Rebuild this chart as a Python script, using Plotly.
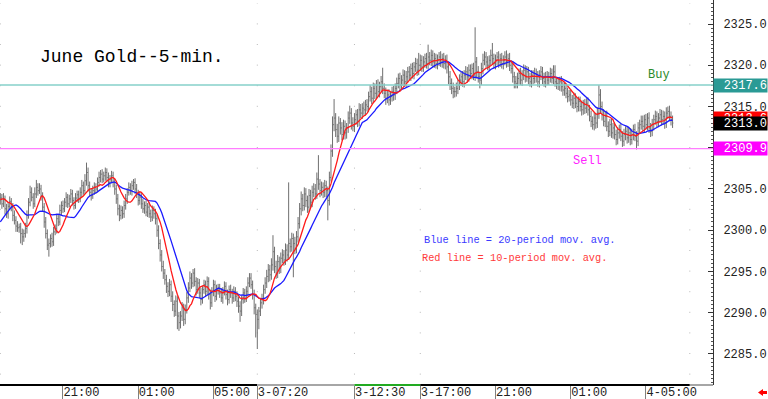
import plotly.graph_objects as go
import pandas as pd

# ---------------- data ----------------
prior_closes = [2297.0, 2297.4, 2297.6, 2298.0, 2298.2, 2298.4, 2298.6, 2299.0, 2299.3, 2299.5,
                2302.5, 2303.2, 2303.8, 2304.2, 2304.0, 2303.9, 2304.1, 2303.8, 2303.6]

closes = [
    2303.9, 2303.2, 2303.8, 2302.6, 2302.0, 2302.9, 2303.5, 2302.8, 2301.8, 2301.2,
    2300.5, 2300.3, 2300.4, 2299.6, 2299.2, 2299.6, 2300.2, 2301.8, 2303.4, 2304.6,
    2304.0, 2303.2, 2304.4, 2305.2, 2304.8, 2305.0, 2304.2, 2302.8, 2301.0, 2299.6,
    2298.2, 2298.4, 2299.0, 2298.6, 2299.8, 2300.2, 2301.4, 2301.0, 2302.4, 2303.0,
    2302.6, 2303.4, 2304.0, 2303.2, 2303.8, 2304.4, 2303.6, 2303.0, 2303.9, 2304.3,
    2303.8, 2304.6, 2305.4, 2304.8, 2306.0, 2307.0, 2305.4, 2304.6, 2304.2, 2304.8,
    2305.2, 2305.0, 2305.8, 2306.4, 2306.8, 2306.2, 2306.6, 2307.0, 2306.4, 2305.8,
    2306.2, 2306.6, 2305.8, 2305.0, 2303.8, 2302.6, 2301.8, 2302.4, 2302.0, 2303.0,
    2303.8, 2304.6, 2305.2, 2304.8, 2305.4, 2305.8, 2305.0, 2304.4, 2303.6, 2304.0,
    2303.2, 2302.6, 2303.0, 2302.2, 2302.8, 2302.0, 2301.6, 2302.4, 2302.0, 2301.4,
    2300.0, 2298.4, 2297.0, 2295.6, 2294.8, 2294.0, 2293.2, 2292.6, 2293.4, 2292.0,
    2291.0, 2290.2, 2291.4, 2289.6, 2288.8, 2289.6, 2290.6, 2289.2, 2290.4, 2291.8,
    2293.0, 2294.2, 2293.6, 2294.8, 2293.8, 2292.8, 2293.6, 2292.4, 2291.6, 2292.8,
    2293.4, 2292.6, 2293.8, 2292.2, 2291.2, 2292.6, 2293.4, 2292.0, 2292.8, 2293.0,
    2292.4, 2291.8, 2292.6, 2293.2, 2292.2, 2291.6, 2292.8, 2292.4, 2291.8, 2292.6,
    2292.0, 2291.4, 2290.8, 2290.2, 2291.6, 2292.4, 2291.8, 2292.6, 2293.6, 2294.2,
    2293.4, 2292.2, 2290.6, 2289.8, 2289.2, 2290.2, 2291.2, 2291.6, 2292.8, 2293.6,
    2294.4, 2295.2, 2294.6, 2295.8, 2297.4, 2295.6, 2294.8, 2296.2, 2295.4, 2296.6,
    2297.0, 2296.4, 2297.6, 2297.0, 2298.4, 2298.0, 2299.0, 2298.4, 2297.8, 2299.2,
    2300.8, 2302.6, 2303.8, 2303.0, 2304.4, 2303.6, 2302.8, 2304.2, 2303.4, 2304.6,
    2305.0, 2304.4, 2306.2, 2305.6, 2304.8, 2305.2, 2304.6, 2305.4, 2304.8, 2303.6,
    2306.4, 2309.6, 2312.8, 2313.6, 2312.2, 2311.4, 2313.0, 2312.4, 2311.6, 2312.6,
    2311.8, 2312.4, 2313.6, 2314.2, 2313.0, 2312.6, 2313.4, 2314.0, 2313.2, 2314.6,
    2314.2, 2314.8, 2314.6, 2315.2, 2315.0, 2316.2, 2316.8, 2316.0, 2317.2, 2316.6,
    2317.6, 2316.8, 2317.4, 2318.0, 2317.2, 2316.6, 2316.0, 2316.4, 2315.8, 2316.2,
    2316.8, 2316.4, 2317.2, 2317.8, 2318.4, 2317.6, 2318.2, 2318.8, 2318.0, 2318.6,
    2319.2, 2318.8, 2319.6, 2319.0, 2319.8, 2320.2, 2319.4, 2320.0, 2320.6, 2319.8,
    2320.4, 2320.8, 2320.2, 2321.0, 2320.6, 2321.2, 2320.4, 2320.8, 2320.2, 2320.6,
    2321.0, 2320.4, 2320.8, 2320.2, 2320.6, 2319.8, 2318.6, 2317.8, 2317.2, 2316.8,
    2316.8, 2317.2, 2317.6, 2318.2, 2318.6, 2318.0, 2318.8, 2319.2, 2318.6, 2319.4,
    2319.0, 2319.6, 2318.8, 2320.4, 2319.2, 2318.6, 2318.2, 2319.6, 2320.6, 2321.0,
    2320.4, 2320.0, 2320.6, 2321.2, 2320.8, 2320.2, 2320.6, 2321.0, 2320.4, 2320.8,
    2320.2, 2320.6, 2321.0, 2320.4, 2320.8, 2320.0, 2319.6, 2318.6, 2318.0, 2317.8,
    2318.4, 2319.0, 2318.2, 2318.8, 2319.4, 2318.6, 2319.2, 2318.4, 2318.0, 2318.8,
    2318.4, 2319.0, 2318.6, 2318.0, 2318.8, 2319.2, 2318.4, 2318.0, 2318.6, 2318.2,
    2318.6, 2319.0, 2318.4, 2319.2, 2318.0, 2317.8, 2317.6, 2318.0, 2317.4, 2317.0,
    2317.2, 2316.6, 2316.2, 2316.4, 2315.8, 2315.4, 2316.0, 2315.4, 2315.0, 2315.6,
    2315.0, 2314.6, 2315.2, 2314.8, 2315.4, 2314.6, 2313.8, 2313.2, 2312.8, 2313.6,
    2313.0, 2314.2, 2316.4, 2315.0, 2314.0, 2313.2, 2313.8, 2312.6, 2312.0, 2312.8,
    2311.8, 2312.4, 2311.6, 2311.0, 2311.8, 2312.2, 2311.4, 2310.8, 2311.6, 2312.0,
    2311.2, 2311.8, 2311.0, 2311.6, 2312.2, 2311.4, 2310.8, 2312.4, 2312.8, 2313.2,
    2312.6, 2313.4, 2312.8, 2313.6, 2312.4, 2312.0, 2312.8, 2313.4, 2313.8, 2313.2,
    2313.6, 2314.0, 2313.4, 2313.8, 2313.0, 2314.2, 2314.4, 2313.8, 2313.4, 2313.0,
]

# how far each bar's high reaches above its body
wick_up = [
    0.6, 0.5, 0.7, 0.4, 0.6, 0.5, 0.6, 0.4, 0.5, 0.6,
    0.5, 0.6, 0.4, 0.5, 0.6, 0.5, 0.7, 0.6, 0.5, 0.8,
    0.6, 0.5, 0.8, 0.9, 0.5, 0.7, 0.5, 0.4, 0.5, 0.6,
    0.5, 0.6, 0.5, 0.7, 0.6, 0.5, 0.6, 0.5, 0.7, 0.5,
    0.6, 0.5, 0.6, 0.4, 0.5, 0.6, 0.5, 0.4, 0.6, 0.5,
    0.5, 0.6, 0.7, 0.5, 0.8, 1.2, 0.6, 0.5, 0.4, 0.6,
    0.6, 0.5, 0.6, 0.7, 0.5, 0.6, 0.5, 0.6, 0.5, 0.6,
    0.5, 0.6, 0.5, 0.4, 0.5, 0.6, 0.5, 0.6, 0.5, 0.6,
    0.6, 0.5, 0.6, 0.5, 0.6, 0.4, 0.5, 0.6, 0.5, 0.6,
    0.5, 0.6, 0.5, 0.6, 0.5, 0.6, 0.5, 0.6, 0.5, 0.6,
    0.5, 0.6, 0.5, 0.6, 0.7, 0.5, 0.6, 0.5, 0.7, 0.5,
    0.6, 0.5, 0.7, 0.6, 0.5, 0.6, 0.7, 0.5, 0.6, 0.7,
    0.7, 0.8, 0.6, 0.5, 0.6, 0.5, 0.6, 0.5, 0.6, 0.5,
    0.6, 0.5, 0.6, 0.5, 0.6, 0.5, 0.6, 0.5, 0.6, 0.5,
    0.5, 0.6, 0.5, 0.6, 0.5, 0.6, 0.5, 0.6, 0.5, 0.6,
    0.5, 0.6, 0.5, 0.6, 0.5, 0.6, 0.5, 0.6, 0.7, 0.6,
    0.6, 0.5, 0.6, 0.5, 0.6, 0.5, 0.6, 0.7, 0.6, 0.7,
    0.8, 0.7, 0.6, 0.8, 2.0, 0.6, 0.7, 0.8, 0.6, 0.7,
    0.7, 0.6, 0.8, 0.7, 7.4, 0.6, 0.7, 0.6, 0.8, 0.7,
    0.8, 0.7, 0.9, 0.6, 0.8, 0.7, 0.6, 0.8, 0.7, 0.8,
    0.7, 0.6, 0.8, 2.9, 0.6, 0.7, 0.6, 0.7, 0.6, 0.5,
    0.7, 0.8, 1.0, 2.3, 0.6, 0.7, 0.8, 0.6, 0.7, 0.8,
    0.7, 0.6, 0.8, 0.9, 0.6, 0.7, 0.8, 0.6, 0.7, 0.8,
    0.7, 0.6, 0.8, 0.6, 0.7, 0.6, 0.8, 0.6, 0.7, 0.6,
    0.6, 0.7, 0.6, 0.7, 1.7, 0.6, 0.7, 0.6, 0.7, 0.6,
    0.6, 0.7, 0.6, 0.7, 0.6, 0.7, 0.6, 0.7, 0.6, 0.7,
    0.6, 0.7, 0.6, 0.7, 0.6, 0.7, 0.6, 1.5, 0.7, 0.6,
    0.7, 0.6, 0.7, 1.5, 0.6, 0.7, 0.6, 0.7, 0.6, 0.7,
    0.6, 0.7, 0.6, 0.7, 0.6, 0.7, 0.6, 0.7, 0.6, 0.7,
    0.6, 0.7, 0.6, 0.7, 0.6, 0.7, 0.6, 0.7, 0.6, 0.7,
    0.7, 0.6, 0.7, 4.2, 0.6, 0.7, 0.6, 0.7, 0.8, 0.7,
    0.6, 0.7, 0.6, 0.7, 1.5, 0.6, 0.7, 0.6, 0.7, 0.6,
    0.7, 0.6, 0.7, 0.8, 0.6, 0.7, 0.6, 0.7, 0.6, 0.7,
    0.7, 0.6, 0.7, 0.6, 0.7, 0.6, 0.7, 0.6, 0.7, 0.6,
    0.6, 0.7, 0.6, 0.7, 0.6, 0.7, 0.6, 0.7, 0.6, 0.7,
    0.6, 0.7, 0.6, 0.8, 0.8, 0.6, 0.7, 0.6, 0.7, 0.6,
    0.7, 0.6, 0.7, 0.6, 0.7, 0.6, 0.7, 0.6, 0.7, 0.6,
    0.6, 0.7, 0.6, 0.7, 0.6, 0.7, 0.6, 0.7, 0.6, 0.7,
    0.6, 0.7, 1.2, 0.7, 0.6, 0.7, 0.6, 0.7, 0.6, 0.7,
    0.7, 0.6, 0.7, 0.6, 0.7, 0.6, 0.7, 0.6, 0.7, 0.6,
    0.6, 0.7, 0.6, 0.7, 0.6, 0.7, 0.6, 0.7, 0.6, 0.7,
    0.7, 0.6, 0.7, 0.6, 0.7, 0.6, 0.7, 0.6, 0.7, 0.6,
    0.6, 0.7, 0.6, 0.7, 0.6, 0.7, 0.6, 0.7, 0.6, 0.5,
]

# how far each bar's low reaches below its body
wick_dn = [
    0.5, 0.6, 0.4, 0.7, 0.5, 0.6, 0.4, 0.5, 0.7, 0.5,
    0.7, 0.5, 0.6, 1.2, 1.0, 0.6, 0.5, 0.6, 0.4, 0.5,
    0.5, 0.6, 0.4, 0.5, 0.6, 0.4, 0.6, 0.5, 0.7, 0.6,
    0.6, 1.4, 0.5, 0.6, 0.5, 0.4, 0.6, 0.5, 0.4, 0.6,
    0.5, 0.4, 0.6, 0.5, 0.4, 0.5, 0.6, 0.5, 0.4, 0.5,
    0.5, 0.4, 0.6, 0.5, 0.4, 0.6, 0.7, 0.5, 0.6, 0.4,
    0.5, 0.6, 0.4, 0.5, 0.6, 0.5, 0.4, 0.6, 0.5, 0.6,
    0.6, 0.5, 0.6, 0.7, 0.6, 0.8, 0.7, 0.5, 0.6, 0.5,
    0.5, 0.6, 0.4, 0.5, 0.6, 0.5, 0.6, 0.5, 0.6, 0.5,
    0.6, 0.5, 0.6, 0.5, 0.6, 0.5, 0.6, 0.5, 0.6, 0.7,
    0.8, 0.7, 0.8, 0.6, 0.7, 0.6, 0.8, 0.7, 0.6, 0.7,
    0.8, 0.7, 0.6, 1.6, 1.0, 0.7, 0.6, 0.8, 0.6, 0.5,
    0.6, 0.5, 0.7, 0.5, 0.6, 0.7, 0.5, 0.6, 0.7, 0.5,
    0.5, 0.7, 0.5, 0.6, 0.8, 0.5, 0.6, 0.7, 0.5, 0.6,
    0.6, 0.5, 0.7, 0.5, 0.6, 0.7, 0.5, 0.6, 0.7, 0.5,
    0.6, 0.7, 0.8, 1.3, 0.6, 0.5, 0.6, 0.5, 0.6, 0.5,
    0.5, 0.6, 0.8, 2.8, 3.6, 1.2, 0.6, 0.7, 0.6, 0.5,
    0.6, 0.7, 0.8, 0.6, 0.7, 0.8, 0.7, 0.6, 0.7, 0.6,
    0.6, 0.7, 0.6, 0.8, 0.6, 0.7, 0.6, 4.1, 0.7, 0.6,
    0.7, 0.6, 0.8, 0.7, 0.6, 0.8, 0.7, 0.6, 0.7, 0.6,
    0.6, 0.7, 0.6, 0.7, 0.8, 0.6, 0.7, 0.6, 0.8, 2.4,
    0.6, 0.5, 0.7, 0.8, 0.9, 0.8, 0.7, 0.8, 0.7, 0.6,
    0.8, 0.7, 0.6, 0.7, 0.8, 0.6, 0.7, 0.6, 0.7, 0.6,
    0.6, 0.7, 0.6, 0.7, 0.6, 0.7, 0.6, 0.7, 0.6, 0.7,
    0.7, 0.6, 0.7, 0.6, 0.7, 0.6, 0.8, 0.6, 0.7, 0.6,
    0.6, 0.7, 0.6, 0.7, 0.6, 0.7, 0.6, 0.7, 0.6, 0.7,
    0.7, 0.6, 0.7, 0.6, 0.7, 0.6, 0.7, 0.6, 0.7, 0.6,
    0.6, 0.7, 0.6, 0.7, 0.6, 0.7, 0.6, 0.7, 0.6, 0.7,
    0.7, 0.6, 0.7, 0.6, 0.7, 0.8, 0.9, 0.8, 0.7, 0.8,
    0.7, 0.6, 0.7, 0.6, 0.7, 0.6, 0.7, 0.6, 0.7, 0.6,
    0.6, 0.7, 0.6, 0.7, 0.8, 0.7, 1.0, 0.6, 0.7, 0.6,
    0.7, 0.6, 0.7, 0.6, 0.7, 0.6, 0.7, 0.6, 0.7, 0.6,
    0.6, 0.7, 0.6, 0.7, 0.6, 0.7, 0.6, 0.7, 0.8, 0.6,
    0.6, 0.7, 0.6, 0.7, 0.6, 0.7, 0.6, 0.7, 0.6, 0.7,
    0.7, 0.6, 0.7, 0.6, 0.7, 0.6, 0.7, 0.6, 0.7, 0.6,
    0.6, 0.7, 0.6, 0.7, 0.6, 0.7, 0.6, 0.7, 0.6, 0.7,
    0.7, 0.6, 0.7, 0.6, 0.7, 0.6, 0.7, 0.6, 0.7, 0.6,
    0.6, 0.7, 0.6, 0.7, 0.6, 0.7, 0.6, 0.7, 0.6, 0.7,
    0.7, 0.6, 0.7, 0.8, 0.7, 0.6, 0.7, 0.6, 0.7, 0.6,
    0.6, 0.7, 0.6, 0.7, 0.6, 0.7, 0.6, 0.7, 0.6, 0.7,
    0.7, 0.6, 0.7, 0.6, 0.7, 0.6, 1.0, 0.6, 0.7, 0.6,
    0.6, 0.7, 0.6, 0.7, 0.6, 0.7, 0.6, 0.7, 0.6, 0.7,
    0.7, 0.6, 0.7, 0.6, 0.7, 0.6, 0.7, 0.6, 0.7, 0.6,
]

tick_bars = [40, 88, 136, 164, 226, 268, 316, 364, 412]
tick_labels = ["21:00", "01:00", "05:00", "3-07:20", "3-12:30", "3-17:00", "21:00", "01:00", "4-05:00"]
session_bounds = [-0.2, 164, 226, 268, 440, 454.8]
session_colors = ["#000000", "#a6a6a6", "#22aa22", "#000000", "#a6a6a6"]
grid_bars = [0, 164, 226, 268, 440]
buy_level = 2317.6
sell_level = 2309.9
ma10_tag = 2313.6
last_tag = 2313.0

# ---------------- derived ----------------
n = len(closes)
opens = [prior_closes[-1]] + closes[:-1]
highs = [max(o, c) + u for o, c, u in zip(opens, closes, wick_up)]
lows = [min(o, c) - d for o, c, d in zip(opens, closes, wick_dn)]
allc = pd.Series(prior_closes + closes)
ma10 = allc.rolling(10, min_periods=1).mean().tolist()[len(prior_closes):]
ma20 = allc.rolling(20, min_periods=1).mean().tolist()[len(prior_closes):]
xs = list(range(n))

MONO = "Liberation Mono, DejaVu Sans Mono, monospace"
W, H = 768, 399
PW, PH = 713, 385
def px(x):
    return x / PW
def py(y):
    return (PH - y) / PH

fig = go.Figure()
fig.add_trace(go.Ohlc(
    x=xs, open=opens, high=highs, low=lows, close=closes,
    increasing=dict(line=dict(color="#6f6f6f", width=1)),
    decreasing=dict(line=dict(color="#6f6f6f", width=1)),
    tickwidth=0.5, hoverinfo="skip", showlegend=False))
fig.add_trace(go.Scatter(x=xs, y=ma20, mode="lines",
                         line=dict(color="#1a1aff", width=1.3), hoverinfo="skip"))
fig.add_trace(go.Scatter(x=xs, y=ma10, mode="lines",
                         line=dict(color="#ff1a1a", width=1.3), hoverinfo="skip"))

shapes = []
# dotted session grid columns
for g in grid_bars:
    shapes.append(dict(type="line", xref="x", yref="y", x0=g, x1=g, y0=2282.5, y1=2327.5,
                       line=dict(color="#b8b8b8", width=1, dash="1px,19.6px"), layer="below"))
# buy / sell levels
shapes.append(dict(type="line", xref="paper", yref="y", x0=0, x1=1, y0=buy_level, y1=buy_level,
                   line=dict(color="#86d0ca", width=1.6)))
shapes.append(dict(type="line", xref="paper", yref="y", x0=0, x1=1, y0=sell_level, y1=sell_level,
                   line=dict(color="#ff7dff", width=1.2)))
# session-coloured time axis line
for a, b, col in zip(session_bounds[:-1], session_bounds[1:], session_colors):
    shapes.append(dict(type="line", xref="x", yref="paper", x0=a, x1=b, y0=0, y1=0,
                       line=dict(color=col, width=2)))
# red arrow bottom-right
ax = [px(758), px(763), px(767)]
ay = [py(392.5), py(389), py(391), py(394), py(396)]
shapes.append(dict(type="path", xref="paper", yref="paper",
                   path=f"M{ax[0]},{ay[0]} L{ax[1]},{ay[1]} L{ax[1]},{ay[2]} L{ax[2]},{ay[2]} "
                        f"L{ax[2]},{ay[3]} L{ax[1]},{ay[3]} L{ax[1]},{ay[4]} Z",
                   fillcolor="#ff0000", line=dict(width=0)))

ann = []
ann.append(dict(text="June Gold--5-min.", xref="paper", yref="paper", x=px(38), y=py(57),
                xanchor="left", yanchor="middle", showarrow=False,
                font=dict(family=MONO, size=18, color="#000000")))
ann.append(dict(text="Buy", xref="paper", yref="paper", x=px(659), y=py(75),
                xanchor="center", yanchor="middle", showarrow=False,
                font=dict(family=MONO, size=12, color="#2a8a2a")))
ann.append(dict(text="Sell", xref="paper", yref="paper", x=px(587), y=py(161),
                xanchor="center", yanchor="middle", showarrow=False,
                font=dict(family=MONO, size=12, color="#ff22ff")))
ann.append(dict(text="Blue line = 20-period mov. avg.", xref="paper", yref="paper",
                x=px(422), y=py(240), xanchor="left", yanchor="middle", showarrow=False,
                font=dict(family=MONO, size=10.3, color="#3a3aff")))
ann.append(dict(text="Red line = 10-period mov. avg.", xref="paper", yref="paper",
                x=px(420), y=py(258), xanchor="left", yanchor="middle", showarrow=False,
                font=dict(family=MONO, size=10.3, color="#ff3a3a")))
for val, bg in [(buy_level, "#2a9a95"), (sell_level, "#ff00ff"), (ma10_tag, "#ff0000"), (last_tag, "#000000")]:
    ann.append(dict(text=f"{val:.1f}", xref="paper", yref="y", x=1, y=val,
                    xanchor="left", yanchor="middle", showarrow=False,
                    width=53, height=13, align="right", bgcolor=bg, borderpad=0,
                    font=dict(family=MONO, size=12, color="#ffffff")))

fig.update_layout(
    width=W, height=H, margin=dict(l=0, r=W - PW, t=0, b=H - PH, pad=0),
    paper_bgcolor="white", plot_bgcolor="white", showlegend=False,
    shapes=shapes, annotations=ann,
    xaxis=dict(range=[-0.2, 454.8], rangeslider=dict(visible=False), showgrid=False,
               zeroline=False, showline=False, tickmode="array", tickvals=tick_bars,
               ticktext=tick_labels, ticks="outside", ticklen=14, tickcolor="#808080",
               tickwidth=1, tickangle=0, ticklabelposition="outside right",
               ticklabelstandoff=-4,
               tickfont=dict(family=MONO, size=12, color="#222222"), automargin=False),
    yaxis=dict(range=[2281.24, 2327.91], side="right", showgrid=False, zeroline=False,
               showline=True, linecolor="#333333", linewidth=1, mirror=False,
               tickmode="array", tickvals=[2285, 2290, 2295, 2300, 2305, 2310, 2315, 2320, 2325],
               tickformat=".1f", ticks="inside", ticklen=5, tickcolor="#333333",
               minor=dict(dtick=0.5, tick0=2285, ticks="inside", ticklen=2, tickcolor="#555555"),
               ticklabelstandoff=7,
               tickfont=dict(family=MONO, size=12, color="#222222"), automargin=False),
)

fig.write_html("out.html")
